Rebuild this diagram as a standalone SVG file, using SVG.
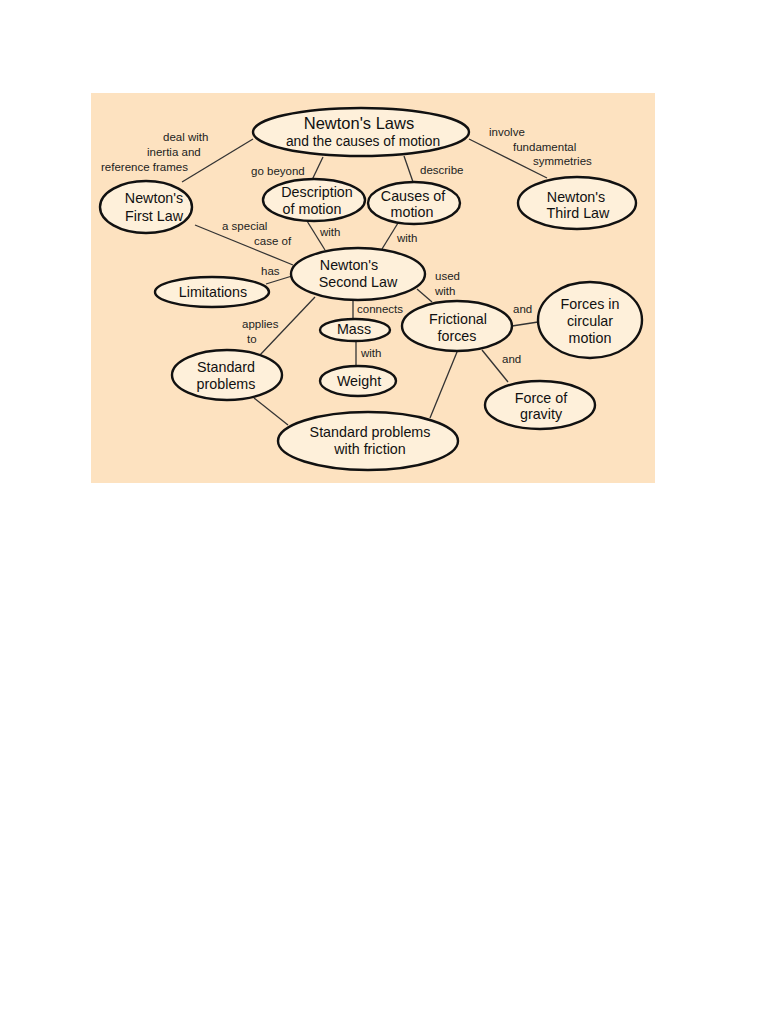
<svg xmlns="http://www.w3.org/2000/svg" width="768" height="1024" viewBox="0 0 768 1024">
<style>
.node ellipse{fill:#fef0da;stroke:#111;stroke-width:2.4}
.node text{font-family:"Liberation Sans",Arial,sans-serif;font-size:14.3px;fill:#111;text-anchor:middle}
.edges line{stroke:#333;stroke-width:1.3}
.lbl{font-family:"Liberation Sans",Arial,sans-serif;font-size:11.5px;fill:#222}
</style>
<rect x="0" y="0" width="768" height="1024" fill="#ffffff"/>
<rect x="91" y="93" width="564" height="390" fill="#fde2c0"/>
<g class="edges" id="connectors">
<line x1="253" y1="139" x2="182" y2="182"/>
<line x1="323" y1="157" x2="312" y2="180"/>
<line x1="404" y1="156" x2="413" y2="182"/>
<line x1="469" y1="139" x2="547" y2="178"/>
<line x1="307" y1="221" x2="325" y2="250"/>
<line x1="398" y1="223" x2="382" y2="249"/>
<line x1="195" y1="225" x2="293" y2="265"/>
<line x1="266" y1="284" x2="292" y2="276"/>
<line x1="353" y1="300" x2="353" y2="320"/>
<line x1="356" y1="341" x2="356" y2="367"/>
<line x1="417" y1="289" x2="432" y2="302"/>
<line x1="315" y1="297" x2="260" y2="355"/>
<line x1="512" y1="326" x2="538" y2="322"/>
<line x1="482" y1="350" x2="508" y2="382"/>
<line x1="457" y1="352" x2="430" y2="418"/>
<line x1="254" y1="398" x2="288" y2="425"/>
</g>
<g id="labels">
<text class="lbl" x="163" y="141">deal with</text>
<text class="lbl" x="147" y="156">inertia and</text>
<text class="lbl" x="101" y="171">reference frames</text>
<text class="lbl" x="251" y="175">go beyond</text>
<text class="lbl" x="420" y="174">describe</text>
<text class="lbl" x="489" y="136">involve</text>
<text class="lbl" x="513" y="151">fundamental</text>
<text class="lbl" x="533" y="165">symmetries</text>
<text class="lbl" x="320" y="236">with</text>
<text class="lbl" x="397" y="242">with</text>
<text class="lbl" x="222" y="230">a special</text>
<text class="lbl" x="254" y="245">case of</text>
<text class="lbl" x="261" y="275">has</text>
<text class="lbl" x="435" y="280">used</text>
<text class="lbl" x="435" y="295">with</text>
<text class="lbl" x="357" y="313">connects</text>
<text class="lbl" x="361" y="357">with</text>
<text class="lbl" x="242" y="328">applies</text>
<text class="lbl" x="247" y="343">to</text>
<text class="lbl" x="513" y="313">and</text>
<text class="lbl" x="502" y="363">and</text>
</g>
<g class="node" id="newtons-laws">
<ellipse cx="361" cy="132" rx="108" ry="24"/>
<text x="359" y="129" style="font-size:16.5px">Newton's Laws</text>
<text x="363" y="146" style="font-size:13.8px">and the causes of motion</text>
</g>
<g class="node" id="first-law">
<ellipse cx="146" cy="207" rx="46" ry="26"/>
<text x="154" y="203">Newton's</text>
<text x="154" y="221">First Law</text>
</g>
<g class="node" id="description">
<ellipse cx="314" cy="200" rx="51" ry="21"/>
<text x="317" y="197">Description</text>
<text x="312" y="214">of motion</text>
</g>
<g class="node" id="causes">
<ellipse cx="414" cy="203" rx="46" ry="21"/>
<text x="413" y="201">Causes of</text>
<text x="412" y="217">motion</text>
</g>
<g class="node" id="third-law">
<ellipse cx="577" cy="203" rx="59" ry="26"/>
<text x="576" y="202">Newton's</text>
<text x="578" y="218">Third Law</text>
</g>
<g class="node" id="second-law">
<ellipse cx="358" cy="274" rx="67" ry="26"/>
<text x="349" y="270">Newton's</text>
<text x="358" y="287">Second Law</text>
</g>
<g class="node" id="limitations">
<ellipse cx="212" cy="292" rx="57" ry="15"/>
<text x="213" y="297">Limitations</text>
</g>
<g class="node" id="mass">
<ellipse cx="355" cy="330" rx="35" ry="11"/>
<text x="354" y="334">Mass</text>
</g>
<g class="node" id="weight">
<ellipse cx="358" cy="381" rx="38" ry="15"/>
<text x="359" y="386">Weight</text>
</g>
<g class="node" id="frictional">
<ellipse cx="457" cy="326" rx="55" ry="25"/>
<text x="458" y="324">Frictional</text>
<text x="457" y="341">forces</text>
</g>
<g class="node" id="circular">
<ellipse cx="590" cy="320" rx="52" ry="38"/>
<text x="590" y="309">Forces in</text>
<text x="590" y="326">circular</text>
<text x="590" y="343">motion</text>
</g>
<g class="node" id="gravity">
<ellipse cx="540" cy="405" rx="55" ry="24"/>
<text x="541" y="403">Force of</text>
<text x="541" y="419">gravity</text>
</g>
<g class="node" id="standard">
<ellipse cx="227" cy="375" rx="55" ry="25"/>
<text x="226" y="372">Standard</text>
<text x="226" y="389">problems</text>
</g>
<g class="node" id="standard-friction">
<ellipse cx="368" cy="441" rx="90" ry="29"/>
<text x="370" y="437">Standard problems</text>
<text x="370" y="454">with friction</text>
</g>
</svg>
